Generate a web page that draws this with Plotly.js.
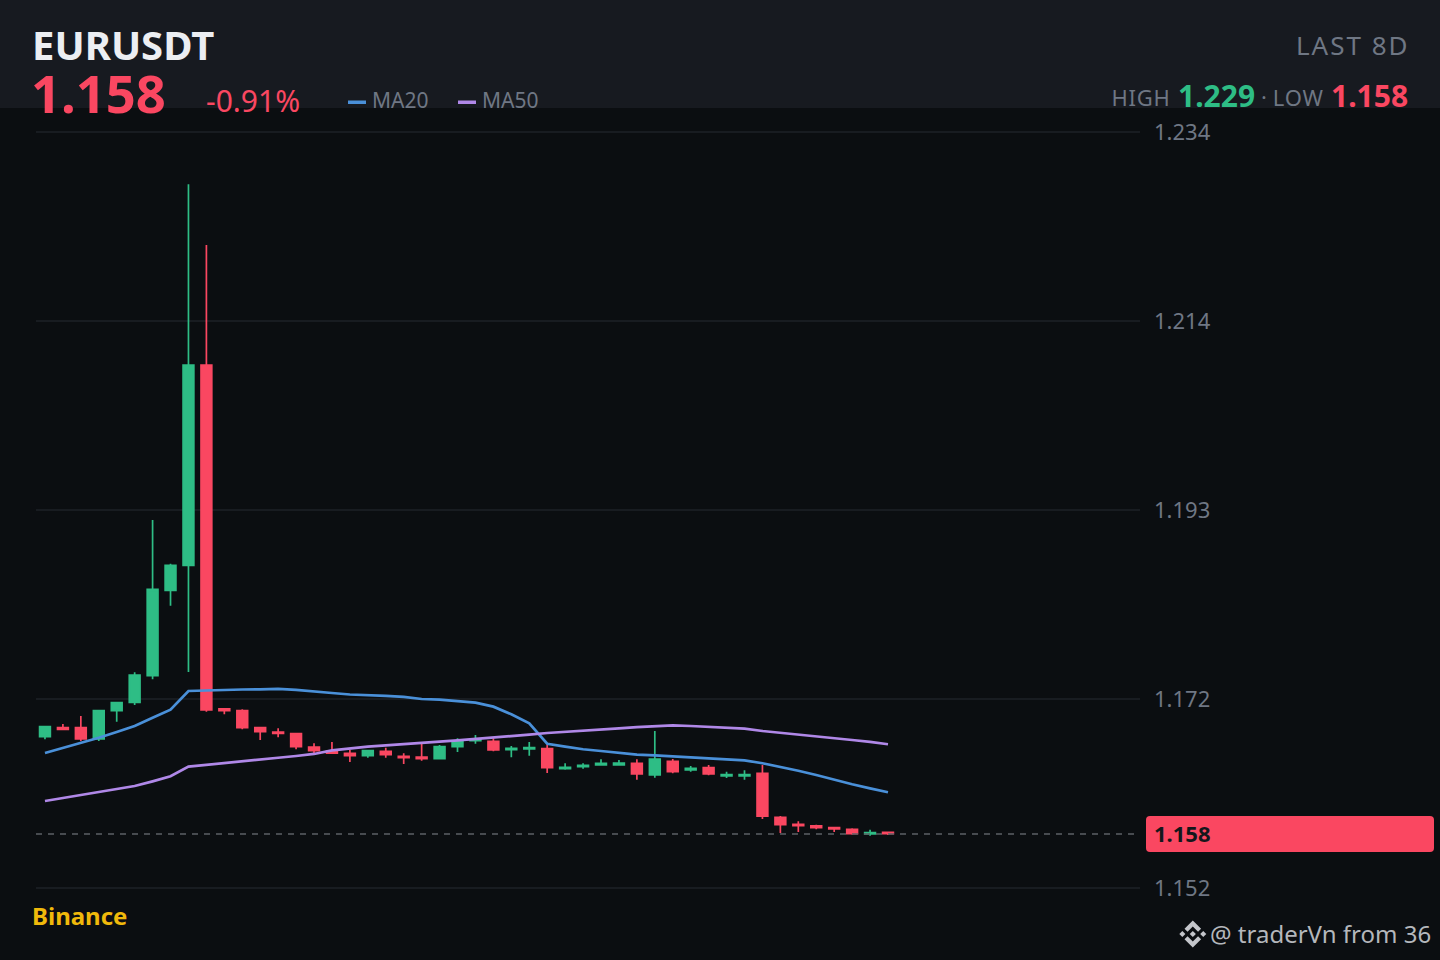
<!DOCTYPE html>
<html><head><meta charset="utf-8">
<script src="https://cdn.plot.ly/plotly-3.0.1.min.js"></script>
<style>html,body{margin:0;padding:0;background:#0b0e11}#c{width:1440px;height:960px}</style>
</head><body><div id="c"></div>
<script>
const symbol = "EURUSDT", lastLabel = "1.158", changeLabel = "-0.91%", highLabel = "1.229", lowLabel = "1.158", periodLabel = "LAST 8D";
const lastPrice = 1.15786;
const tickVals = [1.152, 1.1725, 1.193, 1.2135, 1.234];
const tickText = ["1.152", "1.172", "1.193", "1.214", "1.234"];
const idx = Array.from({length: 48}, (_, i) => i);
const open = [1.16841,1.16939,1.16939,1.16816,1.17123,1.17214,1.17503,1.18429,1.18700,1.20873,1.17142,1.17123,1.16939,1.16892,1.16874,1.16729,1.16686,1.16661,1.16635,1.16683,1.16629,1.16621,1.16603,1.16733,1.16798,1.16791,1.16700,1.16708,1.16711,1.16494,1.16516,1.16534,1.16534,1.16553,1.16426,1.16574,1.16480,1.16505,1.16415,1.16415,1.16444,1.15967,1.15891,1.15873,1.15854,1.15837,1.15786,1.15804];
const high = [1.16950,1.16979,1.17066,1.17123,1.17221,1.17540,1.19192,1.18718,1.22833,1.22175,1.17152,1.17138,1.16941,1.16932,1.16878,1.16770,1.16784,1.16697,1.16697,1.16722,1.16661,1.16770,1.16751,1.16824,1.16860,1.16824,1.16740,1.16784,1.16751,1.16553,1.16553,1.16596,1.16588,1.16596,1.16903,1.16599,1.16523,1.16534,1.16462,1.16477,1.16534,1.15981,1.15924,1.15887,1.15865,1.15848,1.15832,1.15807];
const low = [1.16813,1.16921,1.16795,1.16795,1.17004,1.17185,1.17464,1.18262,1.17543,1.17112,1.17084,1.16921,1.16805,1.16835,1.16705,1.16661,1.16657,1.16567,1.16613,1.16613,1.16545,1.16581,1.16596,1.16675,1.16765,1.16683,1.16618,1.16635,1.16447,1.16483,1.16494,1.16527,1.16527,1.16375,1.16396,1.16444,1.16462,1.16422,1.16393,1.16375,1.15948,1.15797,1.15807,1.15837,1.15807,1.15778,1.15767,1.15775];
const close = [1.16950,1.16921,1.16816,1.17123,1.17210,1.17510,1.18440,1.18700,1.20873,1.17131,1.17123,1.16939,1.16895,1.16878,1.16733,1.16689,1.16664,1.16635,1.16689,1.16646,1.16613,1.16603,1.16733,1.16787,1.16813,1.16697,1.16715,1.16722,1.16505,1.16509,1.16531,1.16553,1.16556,1.16437,1.16599,1.16462,1.16498,1.16437,1.16429,1.16429,1.15978,1.15887,1.15876,1.15854,1.15840,1.15789,1.15800,1.15789];
const ma20 = [1.16664,1.16719,1.16770,1.16830,1.16892,1.16957,1.17047,1.17134,1.17337,1.17345,1.17351,1.17353,1.17355,1.17359,1.17348,1.17329,1.17315,1.17299,1.17293,1.17283,1.17272,1.17250,1.17243,1.17225,1.17210,1.17167,1.17084,1.16987,1.16765,1.16733,1.16705,1.16686,1.16668,1.16646,1.16639,1.16629,1.16621,1.16610,1.16596,1.16585,1.16553,1.16516,1.16472,1.16426,1.16372,1.16325,1.16281,1.16238];
const ma50 = [1.16144,1.16176,1.16206,1.16238,1.16266,1.16306,1.16357,1.16412,1.16516,1.16537,1.16556,1.16574,1.16596,1.16613,1.16632,1.16654,1.16692,1.16715,1.16733,1.16748,1.16759,1.16776,1.16787,1.16802,1.16816,1.16830,1.16841,1.16863,1.16881,1.16892,1.16906,1.16921,1.16932,1.16946,1.16957,1.16965,1.16957,1.16950,1.16939,1.16928,1.16903,1.16885,1.16867,1.16849,1.16827,1.16805,1.16784,1.16759];

const UP = "#2ebd85", DOWN = "#fa4761", BLUE = "#4a90d9", PURPLE = "#b088e8", MUTED = "#6f7784", FONT = '"Noto Sans", sans-serif';
const px = x => (x - 36) / 1104, py = y => (892 - y) / 764;
const yPad = 4 * 0.082 / 756;
const label = (text, x, y, size, color, anchor, bold) => ({
  text: bold ? "<b>" + text + "</b>" : text, xref: "paper", yref: "paper", x: px(x), y: py(y),
  xanchor: anchor || "left", yanchor: "middle", showarrow: false, borderpad: 0,
  font: {family: FONT, size: size, color: color}
});
const rect = (x0, y0, x1, y1, color) => ({type: "rect", xref: "paper", yref: "paper", x0: px(x0), x1: px(x1), y0: py(y0), y1: py(y1), fillcolor: color, line: {width: 0}, layer: "below"});
const rounded = (x0, y0, x1, y1, r, color) => {
  const P = (x, y) => px(x) + "," + py(y);
  return {type: "path", xref: "paper", yref: "paper", layer: "below", fillcolor: color, line: {width: 0},
    path: "M" + P(x0 + r, y0) + " L" + P(x1 - r, y0) + " Q" + P(x1, y0) + " " + P(x1, y0 + r) + " L" + P(x1, y1 - r) + " Q" + P(x1, y1) + " " + P(x1 - r, y1) + " L" + P(x0 + r, y1) + " Q" + P(x0, y1) + " " + P(x0, y1 - r) + " L" + P(x0, y0 + r) + " Q" + P(x0, y0) + " " + P(x0 + r, y0) + " Z"};
};
const logoPolys = [
  [[38.73,53.2],[63.32,28.62],[87.92,53.22],[102.22,38.91],[63.32,0],[24.42,38.9]],
  [[0,63.31],[14.3,49],[28.61,63.31],[14.3,77.61]],
  [[38.73,73.41],[63.32,98],[87.92,73.4],[102.23,87.69],[63.32,126.61],[24.43,87.72]],
  [[98,63.31],[112.3,49],[126.61,63.3],[112.31,77.61]],
  [[77.83,63.3],[63.32,48.78],[48.81,63.28],[63.32,77.78]]
];
const logoShapes = logoPolys.map(poly => ({
  type: "path", xref: "paper", yref: "paper", layer: "above", fillcolor: "#c4c6cb", line: {width: 0},
  path: "M" + poly.map(p => px(1179.3 + p[0] * 27 / 126.61) + "," + py(920.5 + p[1] * 27 / 126.61)).join(" L") + " Z"
}));

const traces = [
  {type: "candlestick", x: idx, open, high, low, close, name: symbol, hoverinfo: "skip", whiskerwidth: 0,
   increasing: {line: {color: UP, width: 1.7}, fillcolor: UP},
   decreasing: {line: {color: DOWN, width: 1.7}, fillcolor: DOWN}},
  {type: "scatter", mode: "lines", x: idx, y: ma20, name: "MA20", line: {color: BLUE, width: 2.7}, hoverinfo: "skip"},
  {type: "scatter", mode: "lines", x: idx, y: ma50, name: "MA50", line: {color: PURPLE, width: 2.7}, hoverinfo: "skip"}
];

const layout = {
  width: 1440, height: 960, paper_bgcolor: "#0b0e11", plot_bgcolor: "rgba(0,0,0,0)",
  margin: {l: 36, r: 300, t: 128, b: 68}, showlegend: false, boxgap: 0.4, boxgroupgap: 0, dragmode: false,
  font: {family: FONT},
  xaxis: {type: "linear", range: [-0.5, 61.05], visible: false, showgrid: false, zeroline: false, rangeslider: {visible: false}, fixedrange: true},
  yaxis: {side: "right", range: [1.152 - yPad, 1.234 + yPad], tickmode: "array", tickvals: tickVals, ticktext: tickText,
    showgrid: true, gridcolor: "#181c21", gridwidth: 1.5, zeroline: false, showline: false, ticks: "", ticklabelstandoff: 13,
    tickfont: {family: FONT, size: 22, color: MUTED}, fixedrange: true},
  shapes: [
    rect(0, 0, 1440, 108, "#171a20"),
    {type: "line", xref: "paper", yref: "y", x0: 0, x1: px(1134), y0: lastPrice, y1: lastPrice, line: {color: "#5c6066", width: 1.5, dash: "6px,6px"}, layer: "above"},
    rounded(1146, 816, 1434, 852, 4, DOWN),
    rect(348, 100.5, 366, 104, BLUE),
    rect(458, 100.5, 476, 104, PURPLE),
    ...logoShapes
  ],
  annotations: [
    label(symbol, 31, 45, 40, "#eceef2", "left", true),
    label(lastLabel, 30, 92, 52.5, DOWN, "left", true),
    label(changeLabel, 205, 101, 30, DOWN),
    label("MA20", 371, 100, 21, MUTED),
    label("MA50", 481, 100, 21, MUTED),
    label(periodLabel, 1404, 45, 26, MUTED, "right"),
    label(lowLabel, 1409, 96, 30, DOWN, "right", true),
    label("LOW", 1323.5, 97, 22, MUTED, "right"),
    label("·", 1264, 96, 22, MUTED, "center"),
    label(highLabel, 1256, 96, 30, UP, "right", true),
    label("HIGH", 1170, 97, 22, MUTED, "right"),
    label(lastLabel, 1153, 833, 22, "#14171b", "left", true),
    label("Binance", 31, 916, 24, "#f0b90b", "left", true),
    label("@ traderVn from 36", 1432, 933, 24, "#b4b7bc", "right")
  ]
};
Plotly.newPlot("c", traces, layout, {displayModeBar: false, staticPlot: true}).then(() => {
  document.querySelectorAll(".annotation-text").forEach(t => {
    if (t.textContent === periodLabel) t.style.letterSpacing = "2px";
    if (t.textContent === "HIGH" || t.textContent === "LOW") t.style.letterSpacing = "0.8px";
  });
});
</script></body></html>
